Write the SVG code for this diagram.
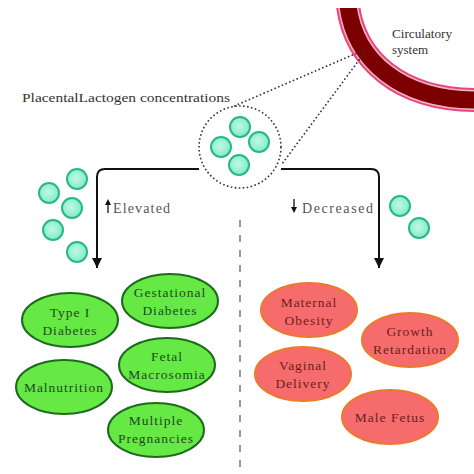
<svg xmlns="http://www.w3.org/2000/svg" width="474" height="474" viewBox="0 0 474 474">
<defs>
<style>
.lbl{font-family:"Liberation Serif",serif;font-size:13px;fill:#333;}
.g ellipse{fill:#66e845;stroke:#1d6b1d;stroke-width:2;}
.r ellipse{fill:#f66b6b;stroke:#ec7a2a;stroke-width:2;}
.g text{font-family:"Liberation Serif",serif;font-size:13.5px;fill:#1f4a1f;text-anchor:middle;letter-spacing:1px;}
.r text{font-family:"Liberation Serif",serif;font-size:13.5px;fill:#6a1f1f;text-anchor:middle;letter-spacing:1px;}
.dot{fill:#9ef3d6;stroke:#26b888;stroke-width:2;}
.conn{fill:none;stroke:#111;stroke-width:2;}
.dotted{fill:none;stroke:#333;stroke-width:1.6;stroke-dasharray:1.6 2.4;}
</style>
<radialGradient id="dg" cx="0.45" cy="0.45" r="0.6">
<stop offset="0" stop-color="#bff9e6"/>
<stop offset="1" stop-color="#7ee9c4"/>
</radialGradient>
<marker id="ah" viewBox="0 0 10 10" refX="10" refY="5" markerWidth="5.5" markerHeight="5" orient="auto" markerUnits="strokeWidth">
<path d="M0,0 L10,5 L0,10 Z" fill="#111"/>
</marker>
</defs>
<rect width="474" height="474" fill="#fff"/>

<g id="vessel">
<path d="M348,6 C355,60 400,100 476,100" fill="none" stroke="#e8457c" stroke-width="24"/>
<path d="M348,6 C355,60 400,100 476,100" fill="none" stroke="#f7b3c8" stroke-width="20"/>
<path d="M348,6 C355,60 400,100 476,100" fill="none" stroke="#7c0000" stroke-width="17"/>
<rect x="330" y="0" width="60" height="8" fill="#fff"/>
</g>

<g id="zoomlines">
<line class="dotted" x1="364" y1="50" x2="232" y2="107"/>
<line class="dotted" x1="362" y1="56" x2="282" y2="164"/>
</g>

<g id="lactogen">
<circle cx="240" cy="147" r="41" class="dotted"/>
<circle class="dot" style="fill:url(#dg)" cx="240" cy="127" r="10"/>
<circle class="dot" style="fill:url(#dg)" cx="221" cy="147" r="10"/>
<circle class="dot" style="fill:url(#dg)" cx="259" cy="142" r="10"/>
<circle class="dot" style="fill:url(#dg)" cx="239" cy="165" r="10"/>
</g>

<g id="labels">
<text class="lbl" x="22" y="102" textLength="208" lengthAdjust="spacingAndGlyphs">PlacentalLactogen concentrations</text>
<text class="lbl" x="392" y="38" textLength="60" lengthAdjust="spacingAndGlyphs">Circulatory</text>
<text class="lbl" x="392" y="54">system</text>
<text class="lbl" x="113" y="213" style="fill:#555;font-size:14px" textLength="57" lengthAdjust="spacing">Elevated</text>
<text class="lbl" x="302" y="213" style="fill:#555;font-size:14px" textLength="71" lengthAdjust="spacing">Decreased</text>
</g>

<g id="connectors">
<path class="conn" d="M199,169 H105 Q97,169 97,177 V268" marker-end="url(#ah)"/>
<path class="conn" d="M281,169 H371 Q379,169 379,177 V268" marker-end="url(#ah)"/>
<line x1="108" y1="213" x2="108" y2="203" stroke="#111" stroke-width="1.3"/>
<path d="M105,205 L108,199 L111,205 Z" fill="#111"/>
<line x1="294" y1="199" x2="294" y2="209" stroke="#111" stroke-width="1.3"/>
<path d="M291,207 L294,213 L297,207 Z" fill="#111"/>
<line x1="240" y1="220" x2="240" y2="474" stroke="#555" stroke-width="1.2" stroke-dasharray="7 8"/>
</g>

<g id="leftdots">
<circle class="dot" style="fill:url(#dg)" cx="77" cy="179" r="10"/>
<circle class="dot" style="fill:url(#dg)" cx="49" cy="193" r="10"/>
<circle class="dot" style="fill:url(#dg)" cx="72" cy="208" r="10"/>
<circle class="dot" style="fill:url(#dg)" cx="53" cy="230" r="10"/>
<circle class="dot" style="fill:url(#dg)" cx="77" cy="252" r="10"/>
</g>
<g id="rightdots">
<circle class="dot" style="fill:url(#dg)" cx="400" cy="206" r="10"/>
<circle class="dot" style="fill:url(#dg)" cx="419" cy="228" r="10"/>
</g>

<g id="type1" class="g"><ellipse cx="70" cy="320" rx="48" ry="27"/><text x="70" y="317">Type I</text><text x="70" y="335">Diabetes</text></g>
<g id="gestational" class="g"><ellipse cx="170" cy="301" rx="48" ry="27"/><text x="170" y="297">Gestational</text><text x="170" y="315">Diabetes</text></g>
<g id="malnutrition" class="g"><ellipse cx="64" cy="387" rx="48" ry="27"/><text x="64" y="392">Malnutrition</text></g>
<g id="macrosomia" class="g"><ellipse cx="167" cy="365" rx="48" ry="27"/><text x="167" y="361">Fetal</text><text x="167" y="379">Macrosomia</text></g>
<g id="multiple" class="g"><ellipse cx="156" cy="430" rx="48" ry="27"/><text x="156" y="425">Multiple</text><text x="156" y="443">Pregnancies</text></g>

<g id="obesity" class="r"><ellipse cx="309" cy="310" rx="48" ry="27"/><text x="309" y="307">Maternal</text><text x="309" y="325">Obesity</text></g>
<g id="growth" class="r"><ellipse cx="410" cy="340" rx="48" ry="27"/><text x="410" y="336">Growth</text><text x="410" y="354">Retardation</text></g>
<g id="vaginal" class="r"><ellipse cx="303" cy="374" rx="48" ry="27"/><text x="303" y="370">Vaginal</text><text x="303" y="388">Delivery</text></g>
<g id="male" class="r"><ellipse cx="390" cy="417" rx="48" ry="27"/><text x="390" y="422">Male Fetus</text></g>
</svg>
